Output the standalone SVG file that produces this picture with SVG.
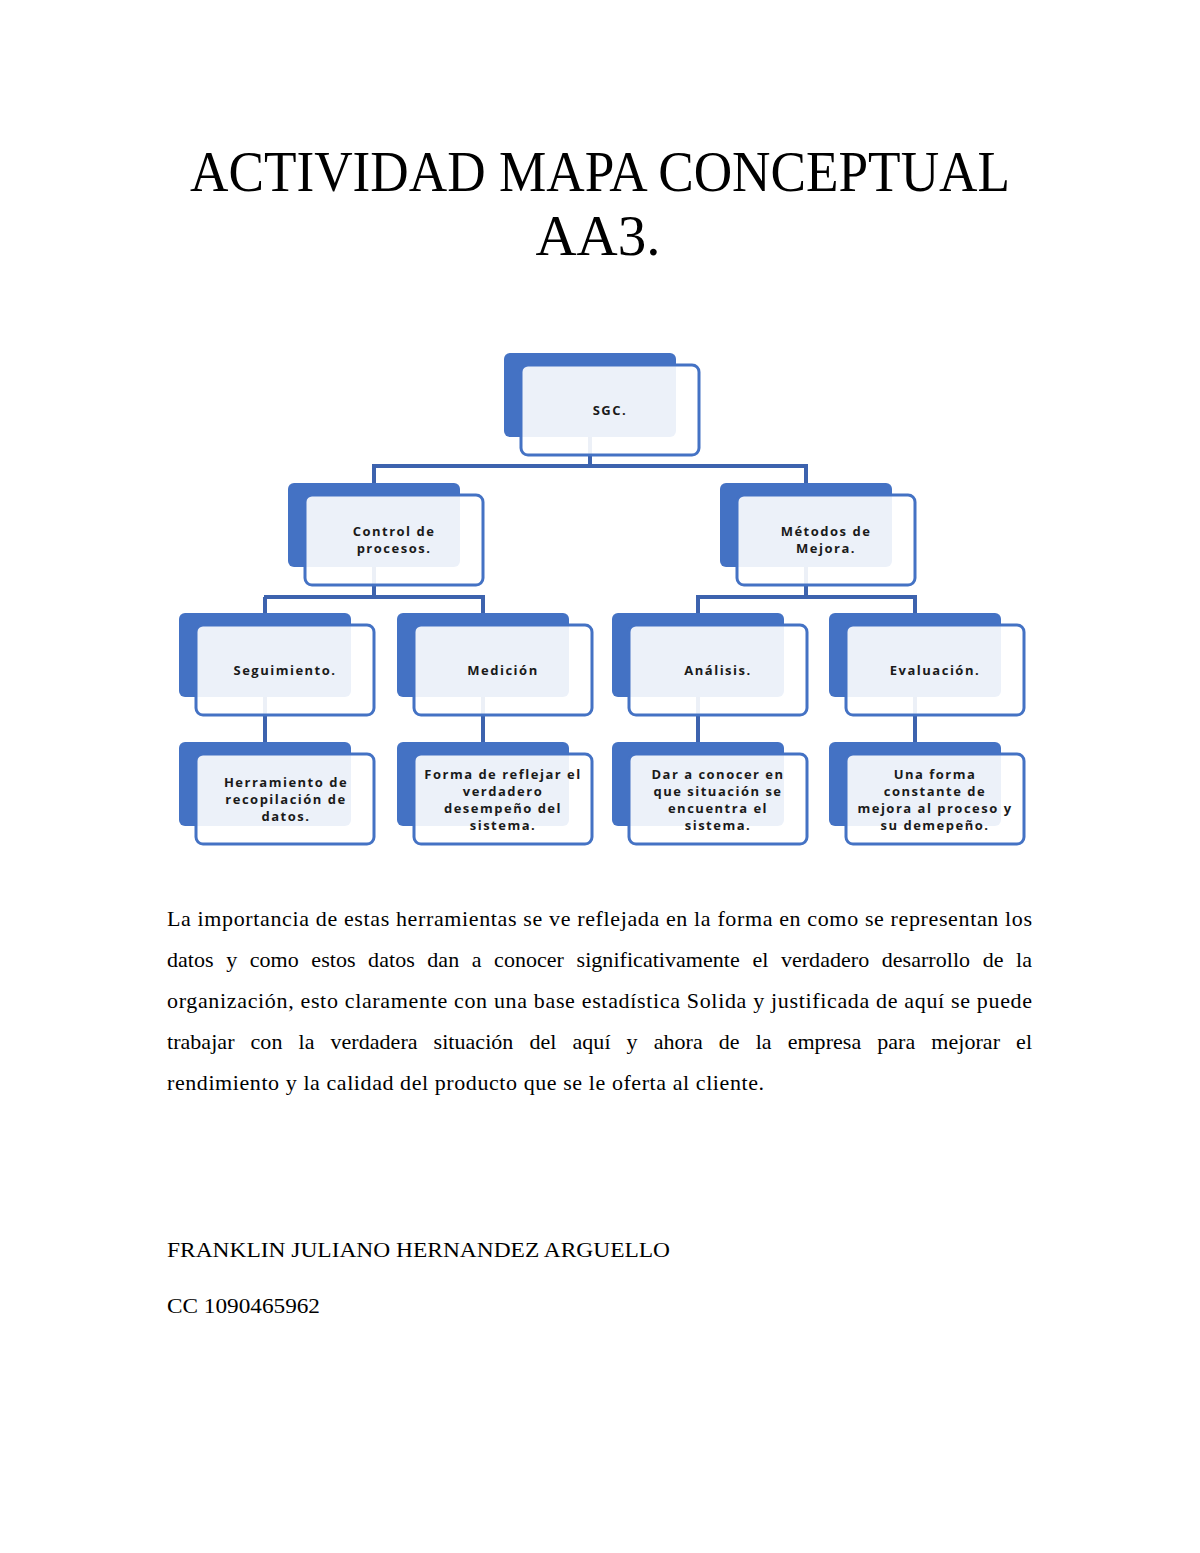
<svg xmlns="http://www.w3.org/2000/svg" width="1200" height="1553" viewBox="0 0 1200 1553">
<style>
.bg{fill:#ffffff}
.back{fill:#4472C4}
.front{fill:#ffffff;fill-opacity:0.9;stroke:#4472C4;stroke-width:3}
.lbl{font-family:"Open Sans","Liberation Sans",sans-serif;font-weight:bold;font-size:13px;letter-spacing:1.5px;fill:#1a1a1a;text-anchor:middle}
.conn{fill:none;stroke:#3D63AE;stroke-width:4}
.title{font-family:"Liberation Serif","Times New Roman",serif;font-size:57px;fill:#000;text-anchor:middle}
.body{font-family:"Liberation Serif","Times New Roman",serif;font-size:22px;fill:#000}
</style>
<defs>
<g id="box">
<rect class="back" x="0" y="0" width="172" height="84" rx="6"/>
<rect class="front" x="17" y="12" width="178" height="90" rx="7"/>
</g>
</defs>
<rect class="bg" x="0" y="0" width="1200" height="1553"/>

<g id="title">
<text class="title" x="600" y="191" textLength="820" lengthAdjust="spacingAndGlyphs">ACTIVIDAD MAPA CONCEPTUAL</text>
<text class="title" x="598" y="255">AA3.</text>
</g>

<g id="connectors">
<path class="conn" d="M590 437 V466 M372 466 H808 M374 466 V490 M806 466 V490"/>
<path class="conn" d="M374 567 V597 M264 597 H485 M265 597 V620 M483 597 V620"/>
<path class="conn" d="M806 567 V597 M696 597 H917 M698 597 V620 M915 597 V620"/>
<path class="conn" d="M265 697 V748 M483 697 V748 M698 697 V748 M915 697 V748"/>
</g>

<g id="node-sgc">
<use href="#box" x="504" y="353"/>
<text class="lbl" x="610" y="415">SGC.</text>
</g>

<g id="node-control">
<use href="#box" x="288" y="483"/>
<text class="lbl" x="394" y="536">Control de</text>
<text class="lbl" x="394" y="553">procesos.</text>
</g>

<g id="node-metodos">
<use href="#box" x="720" y="483"/>
<text class="lbl" x="826" y="536">Métodos de</text>
<text class="lbl" x="826" y="553">Mejora.</text>
</g>

<g id="node-seguimiento">
<use href="#box" x="179" y="613"/>
<text class="lbl" x="285" y="675">Seguimiento.</text>
</g>

<g id="node-medicion">
<use href="#box" x="397" y="613"/>
<text class="lbl" x="503" y="675">Medición</text>
</g>

<g id="node-analisis">
<use href="#box" x="612" y="613"/>
<text class="lbl" x="718" y="675">Análisis.</text>
</g>

<g id="node-evaluacion">
<use href="#box" x="829" y="613"/>
<text class="lbl" x="935" y="675">Evaluación.</text>
</g>

<g id="node-herramiento">
<use href="#box" x="179" y="742"/>
<text class="lbl" x="286" y="787">Herramiento de</text>
<text class="lbl" x="286" y="804">recopilación de</text>
<text class="lbl" x="286" y="821">datos.</text>
</g>

<g id="node-forma">
<use href="#box" x="397" y="742"/>
<text class="lbl" x="503" y="779">Forma de reflejar el</text>
<text class="lbl" x="503" y="796">verdadero</text>
<text class="lbl" x="503" y="813">desempeño del</text>
<text class="lbl" x="503" y="830">sistema.</text>
</g>

<g id="node-dar">
<use href="#box" x="612" y="742"/>
<text class="lbl" x="718" y="779">Dar a conocer en</text>
<text class="lbl" x="718" y="796">que situación se</text>
<text class="lbl" x="718" y="813">encuentra el</text>
<text class="lbl" x="718" y="830">sistema.</text>
</g>

<g id="node-una">
<use href="#box" x="829" y="742"/>
<text class="lbl" x="935" y="779">Una forma</text>
<text class="lbl" x="935" y="796">constante de</text>
<text class="lbl" x="935" y="813">mejora al proceso y</text>
<text class="lbl" x="935" y="830">su demepeño.</text>
</g>

<g id="body">
<text class="body" x="167" y="926" textLength="865" lengthAdjust="spacing">La importancia de estas herramientas se ve reflejada en la forma en como se representan los</text>
<text class="body" x="167" y="967" word-spacing="7" textLength="865" lengthAdjust="spacing">datos y como estos datos dan a conocer significativamente el verdadero desarrollo de la</text>
<text class="body" x="167" y="1008" textLength="865" lengthAdjust="spacing">organización, esto claramente con una base estadística Solida y justificada de aquí se puede</text>
<text class="body" x="167" y="1049" word-spacing="10.5" textLength="865" lengthAdjust="spacing">trabajar con la verdadera situación del aquí y ahora de la empresa para mejorar el</text>
<text class="body" x="167" y="1090" textLength="597" lengthAdjust="spacing">rendimiento y la calidad del producto que se le oferta al cliente.</text>
</g>

<g id="author">
<text class="body" x="167" y="1257" textLength="503" lengthAdjust="spacingAndGlyphs">FRANKLIN JULIANO HERNANDEZ ARGUELLO</text>
<text class="body" x="167" y="1313" textLength="153" lengthAdjust="spacingAndGlyphs">CC 1090465962</text>
</g>
</svg>
